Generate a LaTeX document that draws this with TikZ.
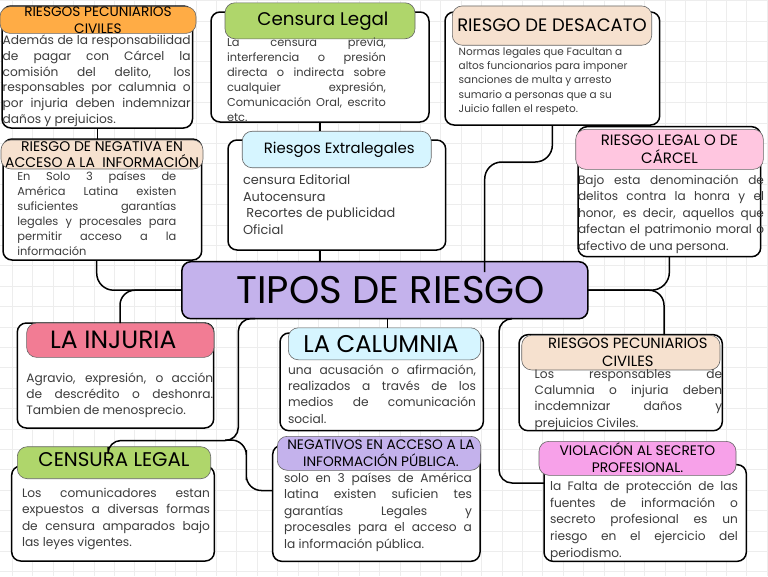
\documentclass[tikz,border=0pt]{standalone}
\usepackage{fontspec}
\setmainfont{Poppins}
\definecolor{gridgray}{HTML}{EDEDED}
\definecolor{inkgray}{HTML}{3C3C3C}
\definecolor{naranja}{HTML}{FFAC45}
\definecolor{verde}{HTML}{AFD66B}
\definecolor{celeste}{HTML}{D6F5FF}
\definecolor{durazno}{HTML}{F6E1CF}
\definecolor{rosado}{HTML}{FFC6E0}
\definecolor{coral}{HTML}{F27C94}
\definecolor{lila}{HTML}{C4B2EC}
\definecolor{orquidea}{HTML}{F7A1E9}
\tolerance=10000
\hbadness=10000
\hfuzz=30pt
\newcommand{\sz}[2] {\fontsize{#1}{#2}\selectfont}
\tikzset{
  bodybox/.style={shape=rectangle,draw=black,line width=1.5pt,fill=white,rounded corners=9pt,inner sep=0pt,outer sep=0pt},
  headbox/.style={shape=rectangle,draw=black!60,line width=0.6pt,rounded corners=10pt,inner sep=0pt,outer sep=0pt,align=center,text=black},
  bodytext/.style={shape=rectangle,anchor=north west,inner sep=0pt,outer sep=0pt,align=justify,text=inkgray},
  plaintext/.style={shape=rectangle,anchor=north west,inner sep=0pt,outer sep=0pt,align=left,text=inkgray},
  link/.style={draw=black,line width=1.5pt},
}

\begin{document}
\begin{tikzpicture}[x=1pt,y=-1pt]
        \useasboundingbox (0,0) rectangle (768,576);
        \fill[white] (0,0) rectangle (768,576);

        %paper grid
        \foreach \gx in {0,...,37} {
            \draw[gridgray,line width=0.5pt] (12.3+\gx*20.4,0) -- (12.3+\gx*20.4,576);
        }
        \foreach \gy in {0,...,28} {
            \draw[gridgray,line width=0.5pt] (0,0.5+\gy*20.4) -- (768,0.5+\gy*20.4);
        }

        %central node
        \node[headbox,draw=black,line width=1.5pt,fill=lila,rounded corners=9pt,minimum width=406pt,minimum height=57pt,font=\sz{38.5}{44}] (main) at (384.85,290.2) {\hspace*{12pt}TIPOS DE RIESGO};

        %riesgos pecuniarios, top left
        \node[bodybox,minimum width=190.5pt,minimum height=122pt] (pecbody) at (97.25,67) {};
        \node[headbox,fill=naranja,minimum width=196pt,minimum height=26pt,font=\sz{13.7}{17}] (pechead) at (98,20) {RIESGOS PECUNIARIOS\\CIVILES};
        \node[bodytext,text width=188pt,font=\sz{12.2}{15.8}] (pectext) at (2.7,35) {Además de la responsabilidad\linebreak de pagar con Cárcel la\linebreak comisión del delito, los\linebreak responsables por calumnia o\linebreak por injuria deben indemnizar\linebreak daños y prejuicios.};

        %riesgo de negativa
        \node[bodybox,minimum width=198.7pt,minimum height=121pt] (negbody) at (102.35,199.5) {};
        \node[headbox,fill=durazno,minimum width=202pt,minimum height=29pt,font=\sz{14}{16}] (neghead) at (102,154.5) {RIESGO DE NEGATIVA EN\\ACCESO A LA\ \ INFORMACIÓN};
        \node[bodytext,text width=159pt,font=\sz{11.4}{15}] (negtext) at (17.3,171.5) {En Solo 3 países de\linebreak América Latina existen\linebreak suficientes garantías\linebreak legales y procesales para\linebreak permitir acceso a la\linebreak información};

        %censura legal, top
        \node[bodybox,minimum width=218pt,minimum height=110pt] (cenbody) at (320,67) {};
        \node[headbox,fill=verde,minimum width=190pt,minimum height=36pt,font=\sz{18.3}{20}] (cenhead) at (320,20.8) {\hspace*{6pt}Censura Legal};
        \node[bodytext,text width=159pt,font=\sz{11.4}{15}] (centext) at (227,37.5) {La censura previa,\linebreak interferencia o presión\linebreak directa o indirecta sobre\linebreak cualquier expresión,\linebreak Comunicación Oral, escrito\linebreak etc.};

        %riesgos extralegales
        \node[bodybox,minimum width=217.7pt,minimum height=110pt] (extbody) at (336.85,195) {};
        \node[headbox,fill=celeste,minimum width=189pt,minimum height=36.5pt,font=\sz{14.9}{18}] (exthead) at (336.7,149.5) {\hspace*{5pt}Riesgos Extralegales};
        \node[plaintext,font=\sz{12.9}{16.4}] (exttext) at (243,175) {censura Editorial\\Autocensura\\\ Recortes de publicidad\\Oficial};

        %riesgo de desacato
        \node[bodybox,minimum width=214.7pt,minimum height=113pt] (desbody) at (552.35,68.5) {};
        \node[headbox,fill=durazno,minimum width=199.4pt,minimum height=39.3pt,font=\sz{18}{20}] (deshead) at (552,25.6) {RIESGO DE DESACATO};
        \node[plaintext,font=\sz{10.5}{14.3}] (destext) at (458.7,47.5) {Normas legales que Facultan a\\altos funcionarios para imponer\\sanciones de multa y arresto\\sumario a personas que a su\\Juicio fallen el respeto.};

        %riesgo legal o de carcel
        \node[bodybox,minimum width=182.7pt,minimum height=130pt] (carbody) at (669.35,191.7) {};
        \node[headbox,fill=rosado,minimum width=187.6pt,minimum height=40pt,font=\sz{15}{18}] (carhead) at (669.5,149.3) {RIESGO LEGAL O DE\\CÁRCEL};
        \node[bodytext,text width=186pt,font=\sz{12.1}{16.5}] (cartext) at (578,174.5) {Bajo esta denominación de\linebreak delitos contra la honra y el\linebreak honor, es decir, aquellos que\linebreak afectan el patrimonio moral o\linebreak afectivo de una persona.};

        %la injuria
        \node[bodybox,minimum width=196.4pt,minimum height=105pt] (injbody) at (115.5,375.5) {};
        \node[headbox,fill=coral,minimum width=187.3pt,minimum height=34.3pt,font=\sz{25}{28}] (injhead) at (120.3,340.2) {LA INJURIA\hspace*{14pt}};
        \node[bodytext,text width=187pt,font=\sz{12.2}{16.4}] (injtext) at (26.3,372.5) {Agravio, expresión, o acción\linebreak de descrédito o deshonra.\linebreak Tambien de menosprecio.};

        %censura legal, bottom
        \node[bodybox,minimum width=202.6pt,minimum height=95pt] (legbody) at (113,513.5) {};
        \node[headbox,fill=verde,minimum width=193.4pt,minimum height=32pt,font=\sz{19.8}{22},text depth=6pt] (leghead) at (114,462.7) {CENSURA LEGAL};
        \node[bodytext,text width=188pt,font=\sz{12.2}{16.5}] (legtext) at (22,488) {Los comunicadores estan\linebreak expuestos a diversas formas\linebreak de censura amparados bajo\linebreak las leyes vigentes.};

        %la calumnia
        \node[bodybox,minimum width=203.3pt,minimum height=97.7pt] (calbody) at (381.65,381.85) {};
        \node[headbox,fill=celeste,minimum width=192.4pt,minimum height=32pt,font=\sz{24.2}{26}] (calhead) at (384.5,343.8) {LA CALUMNIA\hspace*{7pt}};
        \node[bodytext,text width=188pt,font=\sz{12.2}{16.4}] (caltext) at (288,364.5) {una acusación o afirmación,\linebreak realizados a través de los\linebreak medios de comunicación\linebreak social.};

        %negativos en acceso
        \node[bodybox,minimum width=207.3pt,minimum height=116pt] (pubbody) at (376.35,503.3) {};
        \node[headbox,fill=lila,minimum width=203.4pt,minimum height=34pt,font=\sz{13.7}{16.6}] (pubhead) at (379,453.3) {\hspace*{4pt}NEGATIVOS EN ACCESO A LA\\\hspace*{4pt}INFORMACIÓN PÚBLICA.};
        \node[bodytext,text width=188pt,font=\sz{12.2}{16.5}] (pubtext) at (284,472.5) {solo en 3 países de América\linebreak latina existen suficien tes\linebreak garantías Legales y\linebreak procesales para el acceso a\linebreak la información pública.};

        %riesgos pecuniarios, right
        \node[bodybox,minimum width=203.3pt,minimum height=96pt] (civbody) at (620.65,382.7) {};
        \node[headbox,fill=durazno,minimum width=198.3pt,minimum height=34.7pt,font=\sz{14.8}{18}] (civhead) at (620.85,352.6) {\hspace*{14pt}RIESGOS PECUNIARIOS\\\hspace*{14pt}CIVILES};
        \node[bodytext,text width=187.5pt,font=\sz{12.2}{16.4}] (civtext) at (534.7,369) {Los responsables de\linebreak Calumnia o injuria deben\linebreak incdemnizar daños y\linebreak prejuicios Civiles.};

        %violacion al secreto
        \node[bodybox,minimum width=202.3pt,minimum height=96.6pt] (viobody) at (645.15,513) {};
        \node[headbox,fill=orquidea,minimum width=197pt,minimum height=34pt,font=\sz{13.8}{16.6}] (viohead) at (637.5,458.3) {\raisebox{2pt}{VIOLACIÓN AL SECRETO}\\\raisebox{2pt}{PROFESIONAL.}};
        \node[bodytext,text width=188pt,font=\sz{12.2}{16.6}] (viotext) at (550,481) {la Falta de protección de las\linebreak fuentes de información o\linebreak secreto profesional es un\linebreak riesgo en el ejercicio del\linebreak periodismo.};

        %free ends of the connectors
        \coordinate (negfoot) at (96.7,260);
        \coordinate (injtop) at (120,323);
        \coordinate (destip) at (484.7,272);
        \coordinate (desknee) at (484.7,162);
        \coordinate (civtop) at (664,335);
        \coordinate (cenroot) at (255,318.5);
        \coordinate (cenknee) at (238.3,440.5);
        \coordinate (centop) at (108,447);
        \coordinate (pubjoin) at (225,440);
        \coordinate (pubbend) at (246.3,465);
        \coordinate (pubtip) at (272.7,490.5);
        \coordinate (vioroot) at (510.7,318.7);
        \coordinate (vioknee) at (499,483);
        \coordinate (calroot) at (387.3,318.7);

        %connectors above the central node
        \draw[link] (pecbody.south) -- (pecbody.south |- negbody.north);
        \draw[link] (cenbody.south) -- (cenbody.south |- exthead.north);
        \draw[link] (cenbody.south |- extbody.south) -- (cenbody.south |- main.north);
        \draw[link,rounded corners=17pt] (desbody.south) |- (desknee) -- (destip);

        %connectors left and right of the central node
        \draw[link,rounded corners=17pt] (negfoot) |- (main.west);
        \draw[link,rounded corners=15pt] (injtop) |- (main.west);
        \draw[link,rounded corners=18pt] (carbody.south) |- (main.east);
        \draw[link,rounded corners=15pt] (civtop) |- (main.east);

        %connectors below the central node
        \draw[link] (calroot) -- (calroot |- calhead.north);
        \draw[link,rounded corners=13pt] (cenroot) -| (cenknee) -| (centop);
        \draw[link,rounded corners=15pt] (pubjoin) -| (pubbend) |- (pubtip);
        \draw[link,rounded corners=13pt] (vioroot) -| (vioknee) -- (vioknee -| viobody.west);
\end{tikzpicture}
\end{document}
